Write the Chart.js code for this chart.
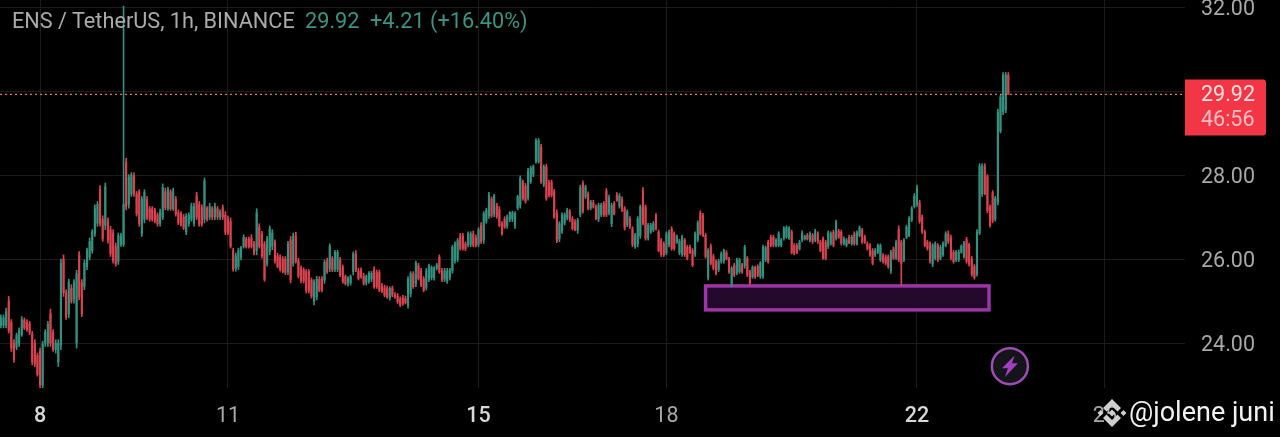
<!DOCTYPE html>
<html lang="en">
<head>
  <meta charset="UTF-8">
  <title>ENS / TetherUS</title>
  <script src="https://cdn.jsdelivr.net/npm/chart.js"></script>
  <style>
    html, body { margin: 0; padding: 0; background: #000; overflow: hidden; }
    #wrap { position: relative; width: 1280px; height: 437px; font-family: Roboto, sans-serif; }
    .txt { position: absolute; white-space: nowrap; }
    #title { left: 12px; top: 8px; font-size: 21.7px; color: #aaaaaa; }
    #last { left: 305px; top: 8px; font-size: 21.7px; color: #3f9281; }
    #change { left: 370px; top: 8px; font-size: 21.7px; color: #3f9281; }
    #mark { left: 1129px; top: 396px; font-size: 27px; color: #f2f2f2; }
  </style>
</head>
<body>
<div id="wrap">
  <canvas id="c" width="1280" height="437"></canvas>
  <div class="txt" id="title">ENS / TetherUS, 1h, BINANCE</div>
  <div class="txt" id="last">29.92</div>
  <div class="txt" id="change">+4.21 (+16.40%)</div>
  <div class="txt" id="mark">@jolene juni</div>
</div>
<script>
// hourly bars, 10 per row
const opens = [
  24.42,24.42,24.42,25.0,24.5,24.0,23.9,24.0,24.2,24.55,
  24.5,24.46,24.22,24.0,23.7,23.8,23.0,24.0,24.0,24.7,
  24.25,23.85,23.55,23.95,26.0,25.2,24.7,25.3,25.05,24.0,
  26.1,25.45,25.35,25.82,26.05,26.2,26.6,26.85,27.65,26.95,
  26.8,26.9,26.7,26.62,26.3,25.95,26.35,26.35,28.3,27.3,
  27.55,27.98,27.55,27.6,26.6,26.95,27.42,27.2,27.2,27.15,
  27.05,26.85,27.0,27.6,27.2,27.6,27.2,27.42,27.1,27.08,
  27.0,26.65,26.85,26.95,26.85,27.5,27.3,27.22,26.95,27.2,
  27.0,27.2,27.0,27.2,27.0,27.22,27.05,26.95,26.9,26.2,
  25.78,25.82,26.05,26.3,26.47,26.47,26.5,26.36,26.2,26.75,
  26.6,26.36,25.9,26.18,26.3,26.4,26.08,26.04,26.0,26.0,
  25.7,26.45,25.9,26.55,25.96,25.78,25.74,25.7,25.7,25.5,
  25.0,25.1,25.52,25.52,25.5,25.96,25.78,26.0,25.76,25.76,
  25.98,25.8,25.58,25.42,25.44,25.7,26.12,25.72,25.74,25.6,
  25.44,25.48,25.52,25.75,25.68,25.68,25.36,25.32,25.3,25.08,
  25.3,25.15,25.12,25.04,25.08,25.06,24.9,25.18,25.64,25.42,
  25.84,25.72,25.52,25.32,25.52,25.56,25.56,25.78,26.04,25.72,
  25.52,25.48,25.56,25.72,25.96,26.0,26.55,26.55,26.36,26.35,
  26.35,26.6,26.5,26.35,26.8,26.45,26.9,27.03,27.42,27.08,
  27.27,27.18,26.84,26.95,26.8,26.95,26.95,26.8,27.22,27.28,
  27.82,27.74,27.46,27.85,28.02,28.32,28.32,28.66,27.78,28.2,
  27.82,27.82,27.6,27.1,26.48,26.66,26.86,26.98,27.12,26.95,
  26.88,26.68,27.06,27.8,27.48,27.54,27.22,27.34,27.24,26.95,
  27.06,27.32,27.62,27.1,26.84,27.32,27.52,27.26,27.42,27.2,
  26.82,26.96,26.72,26.3,26.35,26.55,27.64,27.24,26.5,26.66,
  26.7,27.04,26.64,26.44,26.36,26.15,26.34,26.72,26.6,26.4,
  26.15,26.12,26.45,26.28,26.28,26.2,26.12,26.46,27.1,27.04,
  26.56,25.55,26.3,26.06,25.94,25.75,25.95,25.95,26.15,26.0,
  25.4,25.85,25.68,25.7,25.86,25.84,26.02,25.7,25.58,25.8,
  25.82,25.58,25.6,25.98,26.4,26.52,26.52,26.33,26.33,26.33,
  26.5,26.53,26.5,26.64,26.32,26.32,26.25,26.45,26.48,26.56,
  26.45,26.56,26.45,26.6,26.4,26.48,26.4,26.3,26.37,26.64,
  26.5,26.66,26.64,26.37,26.33,26.52,26.37,26.6,26.37,26.56,
  26.68,26.52,26.36,26.32,26.2,26.1,26.16,25.98,26.08,26.05,
  26.05,25.72,26.24,26.02,26.7,26.4,25.98,26.52,26.56,26.94,
  27.25,27.3,27.34,27.0,26.64,26.4,26.36,25.88,26.02,26.32,
  26.02,26.1,26.32,26.6,26.5,26.16,25.98,25.98,26.16,26.06,
  26.46,26.34,26.0,25.82,25.64,26.62,27.55,28.2,27.96,27.24,
  27.58,26.95,27.35,29.05,29.5,29.55,30.38
];
const highs = [
  24.67,24.67,24.83,25.11,24.56,24.08,24.24,24.36,24.63,24.60,
  24.56,24.52,24.28,24.08,23.76,23.88,24.04,24.32,24.52,24.81,
  24.32,24.08,24.08,26.00,26.10,25.27,25.52,25.39,25.51,25.73,
  26.18,25.51,25.98,26.26,26.50,26.70,27.29,27.37,27.75,27.03,
  27.81,26.98,26.78,26.70,26.38,26.62,26.62,32.02,28.40,28.01,
  28.06,28.05,27.61,27.65,27.49,27.65,27.49,27.25,27.25,27.21,
  27.10,27.19,27.79,27.69,27.71,27.65,27.69,27.49,27.17,27.13,
  27.06,27.08,27.10,27.33,27.33,27.59,27.37,27.29,27.93,27.25,
  27.33,27.25,27.33,27.25,27.17,27.29,27.13,27.02,26.98,26.26,
  26.14,26.26,26.30,26.58,26.52,26.52,26.58,26.42,27.20,26.84,
  26.66,26.42,26.54,26.79,26.70,26.46,26.14,26.10,26.06,26.06,
  26.42,26.54,26.62,26.64,26.02,25.83,25.79,25.75,25.75,25.55,
  25.51,25.59,25.58,25.58,25.98,26.02,26.36,26.06,26.21,26.21,
  26.04,25.86,25.62,25.58,25.62,26.17,26.20,25.78,25.79,25.66,
  25.62,25.70,25.71,25.82,25.74,25.74,25.42,25.38,25.36,25.34,
  25.36,25.20,25.18,25.10,25.14,25.12,25.58,25.70,25.70,25.95,
  25.90,25.78,25.58,25.78,25.88,25.84,25.82,25.90,26.10,25.78,
  25.78,25.78,25.78,26.33,26.41,26.49,26.61,26.61,26.41,26.65,
  26.65,26.67,26.57,26.75,26.87,27.13,27.21,27.59,27.48,27.54,
  27.33,27.25,26.89,27.01,27.05,27.13,27.14,27.13,27.52,27.98,
  27.88,27.80,28.16,28.21,28.24,28.87,28.87,28.73,28.24,28.26,
  27.88,27.88,27.66,27.17,26.89,27.10,27.10,27.21,27.18,27.01,
  26.94,26.97,27.76,27.86,27.76,27.60,27.40,27.40,27.29,27.33,
  27.33,27.37,27.68,27.52,27.33,27.37,27.58,27.56,27.48,27.25,
  27.17,27.01,26.77,26.61,27.01,27.29,27.70,27.29,26.85,26.85,
  26.89,27.09,26.69,26.49,26.41,26.65,26.69,26.77,26.65,26.57,
  26.47,26.57,26.49,26.33,26.33,26.25,26.65,26.91,27.15,27.09,
  26.61,26.25,26.36,26.12,25.98,25.99,26.17,26.24,26.20,26.04,
  25.82,25.90,26.02,26.02,25.90,26.33,26.06,25.74,25.84,25.83,
  25.86,25.94,26.33,26.31,26.45,26.57,26.57,26.49,26.65,26.49,
  26.77,26.79,26.77,26.69,26.37,26.37,26.45,26.67,26.57,26.61,
  26.65,26.61,26.71,26.65,26.45,26.53,26.45,26.67,26.65,26.69,
  26.93,26.71,26.69,26.53,26.49,26.57,26.57,26.65,26.67,26.79,
  26.73,26.57,26.41,26.37,26.25,26.25,26.36,26.36,26.13,26.10,
  26.10,26.21,26.29,26.45,26.79,26.45,26.49,26.81,27.01,27.25,
  27.56,27.76,27.40,27.05,26.69,26.45,26.41,26.37,26.41,26.37,
  26.33,26.41,26.65,26.67,26.57,26.21,26.21,26.22,26.34,26.42,
  26.52,26.38,26.06,25.87,26.70,28.27,28.27,28.27,28.01,27.29,
  27.63,27.49,29.57,29.91,30.44,30.44,30.44
];
const lows = [
  24.36,24.36,24.36,24.24,23.80,23.54,23.84,23.92,24.16,24.32,
  24.28,24.20,23.48,23.44,23.21,22.93,22.93,23.92,23.92,23.92,
  23.80,23.76,23.44,23.84,25.11,24.56,24.60,24.95,24.95,23.88,
  25.03,24.63,25.27,25.75,25.98,26.14,26.54,26.78,26.78,26.42,
  26.70,26.38,26.06,25.90,25.83,25.87,26.30,26.30,27.17,27.21,
  27.49,27.49,27.02,26.78,26.54,26.86,26.94,26.90,26.90,26.86,
  26.78,26.78,26.94,27.17,27.16,27.16,27.16,27.02,26.82,26.78,
  26.70,26.58,26.78,26.90,26.78,26.94,26.78,26.78,26.86,26.90,
  26.94,26.94,26.94,26.94,26.94,26.94,26.58,26.58,26.26,25.71,
  25.71,25.75,25.98,26.26,26.26,26.26,26.26,26.10,26.10,26.26,
  26.02,25.47,25.83,26.10,26.22,25.90,25.79,25.71,25.67,25.63,
  25.63,25.43,25.83,25.90,25.55,25.43,25.43,25.19,25.19,25.07,
  24.91,25.03,25.22,25.22,25.42,25.66,25.70,25.70,25.70,25.70,
  25.58,25.42,25.38,25.36,25.38,25.62,25.70,25.50,25.54,25.38,
  25.38,25.42,25.46,25.30,25.30,25.22,25.20,25.10,25.06,25.02,
  25.10,25.06,24.94,24.87,24.90,24.93,24.83,25.10,25.30,25.34,
  25.50,25.34,25.22,25.26,25.46,25.50,25.50,25.74,25.66,25.46,
  25.46,25.42,25.50,25.66,25.90,25.94,26.21,26.21,26.20,26.29,
  26.29,26.29,26.29,26.29,26.37,26.37,26.85,26.97,26.99,27.01,
  26.97,26.77,26.57,26.73,26.73,26.89,26.89,26.73,27.17,27.21,
  27.40,27.33,27.40,27.80,27.96,28.28,28.28,27.80,27.72,27.40,
  27.48,27.48,26.97,26.39,26.41,26.61,26.81,26.93,26.89,26.69,
  26.67,26.61,27.01,27.09,27.44,27.17,27.17,27.21,26.93,26.89,
  27.01,27.01,27.01,27.05,26.77,27.05,27.37,27.21,27.13,26.69,
  26.77,26.73,26.29,26.25,26.29,26.49,26.81,26.45,26.45,26.61,
  26.65,26.69,26.17,26.06,26.06,26.10,26.29,26.21,26.21,26.37,
  26.10,26.06,26.06,25.98,26.13,25.82,26.06,26.41,26.57,26.53,
  26.02,25.50,25.86,25.74,25.62,25.70,25.90,25.90,25.98,25.66,
  25.34,25.58,25.62,25.66,25.66,25.78,25.58,25.38,25.54,25.54,
  25.58,25.54,25.54,25.94,25.90,26.29,26.29,26.29,26.29,26.29,
  26.45,26.49,26.47,26.12,26.10,26.13,26.21,26.41,26.45,26.45,
  26.41,26.37,26.41,26.37,26.17,25.99,25.98,26.25,26.33,26.29,
  26.45,26.49,26.33,26.33,26.29,26.37,26.33,26.33,26.33,26.53,
  26.37,26.37,26.21,26.06,25.86,26.06,26.13,25.94,25.90,25.86,
  25.78,25.66,25.99,25.99,25.94,25.38,25.94,26.49,26.53,26.89,
  27.21,27.25,26.85,26.61,26.29,26.21,25.90,25.82,25.98,25.94,
  25.98,26.06,26.29,26.37,25.98,25.90,25.94,25.94,26.14,26.02,
  25.90,25.83,25.59,25.52,25.59,26.58,27.49,27.53,27.10,26.76,
  26.86,26.90,27.29,29.00,29.44,29.48,29.92
];
const closes = [
  24.6,24.6,24.75,24.3,23.88,23.6,24.18,24.3,24.55,24.36,
  24.32,24.25,23.55,23.5,23.25,23.0,23.98,24.26,24.45,24.0,
  23.85,24.0,24.0,25.9,25.2,24.62,25.45,25.0,25.45,25.65,
  25.1,24.7,25.9,26.2,26.42,26.65,27.2,27.3,26.85,26.48,
  27.72,26.45,26.12,25.96,25.88,26.55,26.55,27.3,27.25,27.95,
  28.0,27.55,27.08,26.85,27.42,27.58,27.0,26.95,26.95,26.9,
  26.84,27.12,27.7,27.22,27.65,27.2,27.62,27.08,26.86,26.82,
  26.75,27.02,27.04,27.25,27.25,27.0,26.82,26.84,27.86,26.95,
  27.25,27.0,27.25,27.0,27.12,27.0,26.64,26.62,26.3,25.76,
  26.08,26.2,26.26,26.52,26.3,26.3,26.3,26.14,27.1,26.3,
  26.08,25.52,26.48,26.72,26.62,25.95,25.82,25.75,25.7,25.68,
  26.36,25.5,26.55,25.95,25.6,25.48,25.48,25.24,25.24,25.12,
  25.45,25.52,25.26,25.26,25.92,25.7,26.3,25.74,26.16,26.16,
  25.62,25.46,25.42,25.54,25.58,26.12,25.74,25.54,25.58,25.42,
  25.58,25.66,25.66,25.34,25.34,25.26,25.24,25.14,25.1,25.3,
  25.14,25.1,24.98,24.9,24.94,24.96,25.52,25.65,25.34,25.9,
  25.54,25.38,25.26,25.72,25.84,25.8,25.78,25.86,25.7,25.5,
  25.72,25.72,25.74,26.28,26.36,26.44,26.25,26.25,26.24,26.6,
  26.6,26.33,26.33,26.7,26.42,27.08,27.16,27.52,27.03,27.5,
  27.01,26.8,26.6,26.76,27.0,27.1,27.1,27.08,27.48,27.92,
  27.44,27.38,28.1,28.16,28.2,28.82,28.82,27.84,28.2,27.44,
  27.52,27.52,27.0,26.44,26.84,27.05,27.05,27.16,26.94,26.72,
  26.7,26.92,27.7,27.14,27.72,27.2,27.36,27.24,26.96,27.28,
  27.28,27.05,27.05,27.46,27.28,27.08,27.4,27.5,27.16,26.74,
  27.12,26.76,26.34,26.56,26.96,27.24,26.85,26.5,26.8,26.8,
  26.84,26.72,26.2,26.1,26.1,26.6,26.64,26.25,26.25,26.53,
  26.42,26.52,26.1,26.02,26.16,25.86,26.6,26.86,26.6,26.56,
  26.06,26.2,25.9,25.78,25.66,25.95,26.12,26.2,26.0,25.7,
  25.78,25.62,25.98,25.98,25.7,26.28,25.62,25.42,25.8,25.58,
  25.62,25.9,26.28,26.27,25.94,26.33,26.33,26.45,26.6,26.45,
  26.72,26.75,26.73,26.16,26.14,26.16,26.4,26.62,26.53,26.48,
  26.6,26.42,26.66,26.42,26.2,26.02,26.02,26.62,26.6,26.33,
  26.88,26.52,26.38,26.48,26.45,26.37,26.52,26.37,26.62,26.74,
  26.4,26.4,26.25,26.1,25.9,26.2,26.32,26.32,25.94,25.9,
  25.82,26.16,26.02,26.4,25.98,25.9,26.44,26.76,26.96,27.2,
  27.5,27.7,26.9,26.65,26.33,26.25,25.95,26.32,26.36,25.98,
  26.28,26.36,26.6,26.42,26.02,25.94,26.16,26.16,26.3,26.38,
  25.95,25.88,25.63,25.56,26.65,28.2,28.22,27.55,27.15,26.8,
  26.92,27.44,29.5,29.85,30.38,30.38,29.92
];
const dayLabels = ['8', '11', '15', '18', '22', '25'];
const dayBars = [15, 87, 183, 255, 351, 423];
const boldDays = ['8', '15', '22'];
const priceTicks = [24, 26, 28, 30, 32];
const lastPrice = 29.92;
const countdown = '46:56';
const zoneBars = [270, 378.6];
const zonePrices = [24.79, 25.36];
const signalBar = 386.6;
const signalPrice = 23.45;

const GREEN = '#35917f';
const RED = '#d8434f';
const PURPLE = '#9b36a6';

const wickData = highs.map((h, i) => ({ x: i, y: [lows[i], h] }));
const bodyData = opens.map((o, i) => ({ x: i, y: [o, closes[i]] }));
const barColors = opens.map((o, i) => closes[i] >= o ? GREEN : RED);

const overlay = {
  id: 'overlay',
  // zone box under the candles
  beforeDatasetsDraw(chart) {
    const { ctx, scales: { x, y } } = chart;
    const left = x.getPixelForValue(zoneBars[0]);
    const right = x.getPixelForValue(zoneBars[1]);
    const top = y.getPixelForValue(zonePrices[1]);
    const bottom = y.getPixelForValue(zonePrices[0]);
    ctx.save();
    ctx.fillStyle = '#25092c';
    ctx.fillRect(left, top, right - left, bottom - top);
    ctx.strokeStyle = PURPLE;
    ctx.lineWidth = 3.5;
    ctx.strokeRect(left, top, right - left, bottom - top);
    ctx.restore();
  },
  afterDatasetsDraw(chart) {
    const { ctx, chartArea, scales: { x, y } } = chart;
    ctx.save();

    // last price line
    const py = y.getPixelForValue(lastPrice);
    ctx.strokeStyle = '#d9776a';
    ctx.lineWidth = 1.3;
    ctx.setLineDash([2, 3]);
    ctx.beginPath();
    ctx.moveTo(0, py);
    ctx.lineTo(chartArea.right, py);
    ctx.stroke();
    ctx.setLineDash([]);

    // price label
    ctx.fillStyle = '#f23645';
    ctx.beginPath();
    ctx.roundRect(chartArea.right, py - 15, 81, 56, [0, 3, 3, 0]);
    ctx.fill();
    ctx.font = '21.5px Roboto';
    ctx.textAlign = 'left';
    ctx.textBaseline = 'middle';
    ctx.fillStyle = '#ffe0e0';
    ctx.fillText(lastPrice.toFixed(2), 1201, py + 1);
    ctx.fillStyle = '#fabcc2';
    ctx.fillText(countdown, 1201, py + 26);

    // lightning badge
    const cx = x.getPixelForValue(signalBar);
    const cy = y.getPixelForValue(signalPrice);
    ctx.beginPath();
    ctx.arc(cx, cy, 18, 0, Math.PI * 2);
    ctx.fillStyle = '#14141a';
    ctx.fill();
    ctx.lineWidth = 2.5;
    ctx.strokeStyle = '#9a4fb0';
    ctx.stroke();
    ctx.fillStyle = '#a23fc0';
    ctx.beginPath();
    ctx.moveTo(cx + 5, cy - 11);
    ctx.lineTo(cx - 8, cy + 2);
    ctx.lineTo(cx - 2, cy + 2);
    ctx.lineTo(cx - 5, cy + 11);
    ctx.lineTo(cx + 8, cy - 3);
    ctx.lineTo(cx + 2, cy - 3);
    ctx.closePath();
    ctx.fill();

    // exchange logo over the last tick
    const lx = 1112, ly = 413;
    ctx.fillStyle = '#cfcfcf';
    [-1, 1].forEach(s => {
      ctx.beginPath();
      ctx.moveTo(lx, ly + s * 14);
      ctx.lineTo(lx + 9, ly + s * 5);
      ctx.lineTo(lx + 5.5, ly + s * 1.5);
      ctx.lineTo(lx, ly + s * 7);
      ctx.lineTo(lx - 5.5, ly + s * 1.5);
      ctx.lineTo(lx - 9, ly + s * 5);
      ctx.closePath();
      ctx.fill();
    });
    [[0, 0, 3.5], [-11.5, 0, 3], [11.5, 0, 3]].forEach(([dx, dy, r]) => {
      ctx.beginPath();
      ctx.moveTo(lx + dx, ly + dy - r);
      ctx.lineTo(lx + dx + r, ly + dy);
      ctx.lineTo(lx + dx, ly + dy + r);
      ctx.lineTo(lx + dx - r, ly + dy);
      ctx.closePath();
      ctx.fill();
    });
    ctx.restore();
  }
};

new Chart(document.getElementById('c').getContext('2d'), {
  type: 'bar',
  data: {
    datasets: [
      { data: wickData, backgroundColor: barColors, barThickness: 1, grouped: false, order: 2 },
      { data: bodyData, backgroundColor: barColors, barThickness: 1.5, grouped: false, order: 1 }
    ]
  },
  options: {
    responsive: false,
    animation: false,
    layout: { padding: 0 },
    plugins: { legend: { display: false }, tooltip: { enabled: false } },
    scales: {
      x: {
        type: 'linear',
        offset: false,
        min: -0.345,
        max: 453.7,
        afterBuildTicks(scale) { scale.ticks = dayBars.map(v => ({ value: v })); },
        afterFit(scale) {
          scale.height = 49;
          scale.paddingLeft = 0;
          scale.paddingRight = 0;
        },
        grid: { color: '#1c1c1c', drawTicks: false, offset: false },
        border: { display: false },
        ticks: {
          autoSkip: false,
          maxRotation: 0,
          padding: 16,
          callback: v => dayLabels[dayBars.indexOf(v)],
          color: c => boldDays.includes(dayLabels[c.index]) ? '#d8d8d8' : '#a8a8a8',
          font: c => ({ family: 'Roboto', size: 21.5, weight: boldDays.includes(dayLabels[c.index]) ? '500' : '400' })
        }
      },
      y: {
        position: 'right',
        min: 22.93,
        max: 32.167,
        afterBuildTicks(scale) { scale.ticks = priceTicks.map(v => ({ value: v })); },
        afterFit(scale) {
          scale.width = 95;
          scale.paddingTop = 0;
          scale.paddingBottom = 0;
        },
        grid: { color: '#1c1c1c', drawTicks: false },
        border: { display: false },
        ticks: {
          padding: 16,
          // empty first line nudges the label down a little
          callback: v => v === 30 ? '' : ['', v.toFixed(2)],
          color: '#a8a8a8',
          font: { family: 'Roboto', size: 21.5, lineHeight: 0.22 }
        }
      }
    }
  },
  plugins: [overlay]
});
</script>
</body>
</html>
